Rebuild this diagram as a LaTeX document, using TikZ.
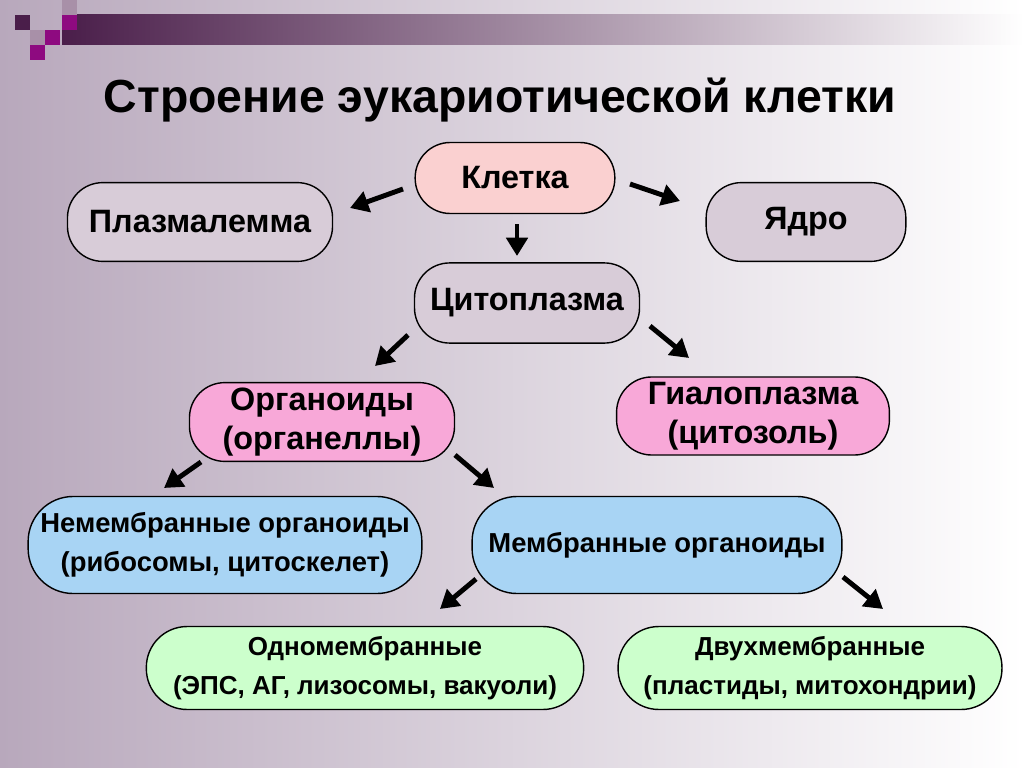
\documentclass[tikz,border=0pt]{standalone}
\usepackage{fontspec}
\setmainfont{Liberation Sans}
\usetikzlibrary{arrows.meta}
\definecolor{bgpurple}{HTML}{B8A8BC}
\definecolor{bandpurple}{HTML}{4A1E4A}
\definecolor{sqmag}{HTML}{8E0A80}
\definecolor{sqgray}{HTML}{A890A8}
\definecolor{pinkfill}{HTML}{FAD0D0}
\definecolor{grayfill}{HTML}{D8CCD8}
\definecolor{magfill}{HTML}{F8A8D8}
\definecolor{bluefill}{HTML}{A8D4F4}
\definecolor{greenfill}{HTML}{CCFFCC}

\begin{document}
\begin{tikzpicture}[x=0.025cm,y=-0.025cm,
        font=\bfseries,
        box/.style={draw,line width=1pt,rounded corners=25pt,align=center,inner sep=0pt,font=\fontsize{23}{28}\selectfont\bfseries},
        smallbox/.style={box,rounded corners=32pt,font=\fontsize{19.5}{28}\selectfont\bfseries},
        greenbox/.style={box,fill=greenfill,rounded corners=29pt,minimum height=59pt,font=\fontsize{18.5}{28}\selectfont\bfseries},
        arr/.style={-{Triangle[length=13pt,width=15pt]},line width=3.5pt}]
        % background
        \useasboundingbox (0,0) rectangle (1024,768);
        \shade[left color=bgpurple,right color=white] (0,0) rectangle (1024,768);
        \shade[left color=bandpurple,right color=white] (62,15) rectangle (1024,45);
        \fill[bandpurple] (15,15) rectangle (30,30);
        \fill[sqgray] (62,0) rectangle (77,15);
        \fill[sqmag] (62,15) rectangle (77,30);
        \fill[sqgray] (30,30) rectangle (45,45);
        \fill[sqmag] (45,30) rectangle (60,45);
        \fill[sqmag] (30,45) rectangle (45,60);
        \node (title) at (500,100) {\fontsize{33}{40}\selectfont Строение эукариотической клетки};
        % nodes
        \node[box,fill=pinkfill,minimum width=142pt,minimum height=50.5pt] (cell) at (515,178) {Клетка};
        \node[box,fill=grayfill,minimum width=188.5pt,minimum height=56pt] (plasma) at (200,222) {Плазмалемма};
        \node[box,fill=grayfill,minimum width=142pt,minimum height=56pt] (nucl) at (806,222) {Ядро};
        \node[box,fill=grayfill,minimum width=160pt,minimum height=57pt] (cyto) at (527,303) {Цитоплазма};
        \node[box,fill=magfill,minimum width=188.5pt,minimum height=56pt] (org) at (322,422) {Органоиды\\(органеллы)};
        \node[box,fill=magfill,minimum width=194pt,minimum height=55.5pt] (hyal) at (753,416) {Гиалоплазма\\(цитозоль)};
        \node[smallbox,fill=bluefill,minimum width=280pt,minimum height=69pt] (nonmem) at (225,545) {Немембранные органоиды\\(рибосомы, цитоскелет)};
        \node[smallbox,fill=bluefill,minimum width=263pt,minimum height=69pt] (mem) at (657,545) {Мембранные органоиды};
        \node[greenbox,minimum width=311pt] (single) at (365,668) {Одномембранные\\(ЭПС, АГ, лизосомы, вакуоли)};
        \node[greenbox,minimum width=273pt] (double) at (810,668) {Двухмембранные\\(пластиды, митохондрии)};
        % arrow ends
        \coordinate (a1s) at (403,189); \coordinate (a1e) at (350,208);
        \coordinate (a2s) at (630,184); \coordinate (a2e) at (680,201);
        \coordinate (a3s) at (517,224); \coordinate (a3e) at (517,256);
        \coordinate (a4s) at (408,335); \coordinate (a4e) at (375,366);
        \coordinate (a5s) at (650,326); \coordinate (a5e) at (689,358);
        \coordinate (a6s) at (201,462); \coordinate (a6e) at (164,488);
        \coordinate (a7s) at (455,455); \coordinate (a7e) at (494,488);
        \coordinate (a8s) at (476,579); \coordinate (a8e) at (440,609);
        \coordinate (a9s) at (843,577); \coordinate (a9e) at (883,609);
        % arrows
        \foreach \i in {1,...,9}
            \draw[arr] (a\i s) -- (a\i e);
\end{tikzpicture}
\end{document}
